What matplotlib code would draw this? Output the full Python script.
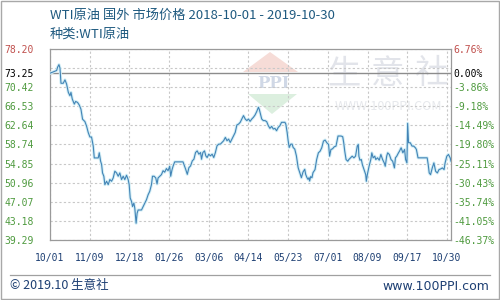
import matplotlib
matplotlib.use('Agg')
import matplotlib.pyplot as plt
from matplotlib.patches import Polygon, Rectangle
from matplotlib.lines import Line2D

plt.rcParams['font.family'] = ['Noto Sans CJK SC', 'DejaVu Sans']

# days since 2018-10-01 and WTI price
day_offset = [0, 6.5, 7.5, 8.8, 9.8, 10.8, 13, 14.7, 16.3, 18, 19.6, 20.6, 21.9, 23.9, 25.2,
              27.1, 28.8, 30.4, 32, 34.3, 35.9, 37.6, 39.2, 40.8, 42.5, 43.5, 44.8, 47.4,
              48.4, 49.7, 50.7, 51.6, 52.9, 53.9, 55.6, 57.2, 58.8, 60.5, 62.1, 63.7, 65.4,
              67, 68.6, 70.3, 71.9, 73.5, 75.2, 76.8, 77.8, 78.8, 80.1, 81.1, 82.4, 83.3,
              84.6, 85.6, 86.6, 89.9, 91.5, 93.1, 94.8, 96.4, 98, 99.7, 100.7, 102.3, 103.9,
              105.2, 106.2, 107.8, 109.5, 111.1, 112.7, 114.4, 116, 117.6, 118.6, 119.9,
              120.9, 122.5, 125.8, 130.7, 133.3, 134.9, 136.5, 138.1, 139.8, 141.4, 143,
              144.6, 146.3, 147.9, 148.9, 150.2, 151.8, 153.1, 154.4, 156, 157.6, 159.3,
              160.9, 162.5, 164.1, 165.8, 167.4, 169, 170.6, 172.3, 173.9, 175.5, 177.1,
              178.8, 180.4, 182, 183.6, 185.3, 186.9, 188.5, 190.1, 191.8, 193.4, 195,
              196.6, 198.3, 199.9, 201.5, 203.1, 204.8, 205.7, 207, 208, 209.6, 211.3,
              212.9, 214.5, 216.1, 217.8, 219.4, 221, 222.6, 224.3, 225.9, 227.5, 229.1,
              230.8, 231.7, 233, 234, 235, 236.6, 237.9, 238.9, 240.5, 242.1, 243.8, 245.4,
              247, 248.6, 250.3, 251.2, 252.5, 253.5, 254.5, 255.1, 256.1, 257.4, 258.4,
              260.4, 262, 263.7, 265.4, 267, 268.7, 270.3, 272, 273.7, 274.7, 276, 277.6,
              279.3, 281, 282, 283, 284.3, 286, 287.6, 288.6, 289.6, 290.9, 292.6, 293.6,
              295.2, 296.9, 298.6, 300.2, 301.9, 302.9, 303.5, 304.5, 305.9, 306.9, 308.5,
              310.2, 310.8, 311.8, 313.5, 315.2, 316.2, 317.5, 319.1, 320.1, 321.8, 323.5,
              325.1, 326.8, 328.4, 329.4, 330.8, 331.8, 333.4, 335.1, 336.7, 338.4, 339.4,
              340.7, 342.4, 343.4, 345, 346.7, 348.4, 349.4, 350.7, 351.4, 352.3, 354,
              355.7, 357.3, 359, 360, 361.6, 365, 368.3, 370.6, 371.6, 372.6, 373.9, 375.6,
              377.2, 378.9, 380.6, 382.2, 383.9, 385.5, 387.2, 388.2, 389.9, 391.5, 393.2,
              394]
price = [73.25, 73.8, 74.5, 75.0, 74.3, 71.2, 71.2, 71.9, 71.05, 69.35, 68.66, 69.35, 67.98,
         66.96, 67.5, 67.3, 66.75, 65.93, 63.88, 63.4, 62.5, 61.15, 60.26, 60.26, 58.4, 56.0,
         56.0, 56.0, 57.05, 55.35, 54.66, 52.95, 52.27, 50.56, 51.25, 50.56, 51.6, 51.25,
         51.93, 53.3, 52.95, 52.27, 52.95, 51.6, 52.27, 51.6, 52.48, 51.6, 50.56, 47.83,
         47.15, 46.1, 46.8, 45.8, 42.7, 44.76, 45.4, 45.4, 46.1, 46.8, 47.5, 48.5, 49.2,
         50.56, 52.27, 52.27, 51.93, 50.7, 51.93, 52.27, 52.6, 53.4, 53.1, 53.84, 53.4,
         54.3, 52.27, 53.6, 54.3, 55.2, 55.2, 55.2, 53.69, 52.66, 54.03, 54.37, 55.4, 55.74,
         57.1, 57.44, 56.76, 57.1, 55.74, 57.1, 57.44, 56.42, 56.08, 56.76, 56.42, 56.76,
         56.08, 57.1, 58.47, 58.81, 58.81, 59.15, 59.5, 60.18, 59.5, 59.84, 59.15, 59.84,
         60.52, 61.2, 62.7, 62.9, 63.25, 63.93, 64.62, 63.93, 63.6, 63.93, 63.45, 63.93,
         64.28, 64.75, 65.44, 66.32, 65.85, 64.75, 63.93, 63.6, 63.6, 63.39, 62.57, 62.02,
         62.43, 61.88, 62.02, 61.54, 62.23, 62.57, 63.25, 63.25, 63.25, 62.9, 61.2, 59.5,
         58.13, 58.81, 58.81, 58.13, 57.79, 56.42, 54.03, 53.0, 51.98, 53.14, 53.69, 52.66,
         51.98, 51.64, 51.98, 51.3, 52.19, 51.98, 53.0, 53.63, 55.67, 57.04, 57.38, 58.07,
         59.43, 59.64, 59.09, 58.75, 56.36, 57.72, 57.86, 58.27, 58.41, 59.43, 60.46, 60.46,
         60.46, 60.32, 59.09, 57.38, 55.67, 55.33, 55.67, 56.02, 56.36, 56.02, 56.36, 58.41,
         58.75, 56.36, 55.54, 55.67, 54.65, 53.63, 52.6, 51.24, 52.6, 54.31, 55.67, 57.04,
         56.02, 56.36, 55.67, 56.02, 55.54, 56.7, 55.67, 54.99, 54.31, 56.36, 57.04, 56.7,
         55.67, 55.33, 53.97, 56.02, 56.36, 57.04, 57.38, 58.07, 57.04, 57.72, 55.67, 54.99,
         63.05, 59.09, 59.09, 58.41, 58.41, 58.07, 57.72, 56.02, 56.02, 56.02, 56.02, 54.65,
         52.94, 52.6, 53.97, 54.99, 53.28, 52.94, 53.63, 53.76, 53.97, 53.63, 54.99, 56.36,
         56.7, 56.02, 55.33]

base_price = 73.25
left_ticks = [78.20, 73.25, 70.42, 66.53, 62.64, 58.74, 54.85, 50.96, 47.07, 43.18, 39.29]
right_labels = ['6.76%', '0.00%', '-3.86%', '-9.18%', '-14.49%', '-19.80%', '-25.11%',
                '-30.43%', '-35.74%', '-41.05%', '-46.37%']
x_tick_days = [0, 39, 78, 117, 156, 195, 234, 273, 312, 351, 390]
x_tick_labels = ['10/01', '11/09', '12/18', '01/26', '03/06', '04/14', '05/23', '07/01',
                 '08/09', '09/17', '10/30']

red = '#c0504d'
green = '#4e9a3e'
navy = '#1d3f73'
grid_c = '#c8c8c8'
mono = ['DejaVu Sans Mono']

fig = plt.figure(figsize=(5, 3), dpi=100)
ax = fig.add_axes([0.1, 0.2, 0.802, 0.637])

ymin, ymax = 39.29, 78.20
ax.set_xlim(0, 394)
ax.set_ylim(ymin, ymax)

# dotted grid
step = (ymax - ymin) / 10
for k in range(11):
    ax.axhline(ymax - k * step, color=grid_c, lw=0.8, ls=(0, (2, 2)), zorder=1)
for d in x_tick_days:
    ax.axvline(d, color=grid_c, lw=0.8, ls=(0, (2, 2)), zorder=1)
ax.axhline(base_price, color='#8c8c8c', lw=1.0, zorder=2)

# watermark: logo + site name
def px(x, y):
    return (x / 500, 1 - y / 300)

ax.add_patch(Polygon([px(243, 72), px(298, 72), px(270, 52)], closed=True,
                     transform=fig.transFigure, color='#f6dcd7', zorder=0.2, lw=0))
ax.add_patch(Polygon([px(248, 94), px(297, 94), px(272, 114)], closed=True,
                     transform=fig.transFigure, color='#dcefdf', zorder=0.2, lw=0))
ax.text(273 / 500, 1 - 84 / 300, 'PPI', transform=fig.transFigure, ha='center', va='center',
        fontsize=12, color='#d0d8e6', family=['DejaVu Serif'], fontweight='bold', zorder=0.2)
for cx, ch in zip([344, 388, 431], ['生', '意', '社']):
    ax.text(cx / 500, 1 - 74 / 300, ch, transform=fig.transFigure, ha='center', va='center',
            fontsize=24, color='#e2e4ea', zorder=0.2)
ax.text(388 / 500, 1 - 107 / 300, 'WWW.100PPI.COM', transform=fig.transFigure, ha='center',
        va='center', fontsize=9, color='#e6e8ec', zorder=0.2)

# price line with light halo
ax.plot(day_offset, price, color='#d2eef6', lw=2.2, zorder=3, solid_joinstyle='round')
ax.plot(day_offset, price, color='#4384b6', lw=0.8, zorder=4)

for s in ax.spines.values():
    s.set_color('#9a9a9a')
    s.set_linewidth(0.9)

ax.set_xticks(x_tick_days)
ax.set_xticklabels(x_tick_labels, family=mono, fontsize=7, color=navy)
ax.set_yticks(left_ticks)
ax.set_yticklabels(['%.2f' % v for v in left_ticks], family=mono, fontsize=7)
ax.tick_params(length=0, pad=11.5, axis='y')
ax.tick_params(length=0, pad=9, axis='x')
for i, t in enumerate(ax.get_yticklabels()):
    t.set_color(red if i == 0 else ('black' if i == 1 else green))

ax2 = ax.twinx()
ax2.set_ylim(ymin, ymax)
ax2.set_yticks(left_ticks)
ax2.set_yticklabels(right_labels, family=mono, fontsize=7)
ax2.tick_params(length=0, pad=2)
for s in ax2.spines.values():
    s.set_visible(False)
for i, t in enumerate(ax2.get_yticklabels()):
    t.set_color(red if i == 0 else ('black' if i == 1 else green))

# titles and footer
title_c = '#1f5a80'
fig.text(50 / 500, 1 - 15 / 300, 'WTI原油 国外 市场价格 2018-10-01 - 2019-10-30',
         fontsize=9.5, color=title_c, va='center', ha='left')
fig.text(50 / 500, 1 - 34 / 300, '种类:WTI原油', fontsize=9.5, color=title_c,
         va='center', ha='left')
fig.add_artist(Line2D([10 / 500, 490 / 500], [1 - 275 / 300, 1 - 275 / 300],
                      color='#a0a0a0', lw=0.9))
fig.text(10 / 500, 1 - 286 / 300, '© 2019.10 生意社', fontsize=9, color=navy,
         va='center', ha='left')
fig.text(489 / 500, 1 - 286 / 300, 'www.100PPI.com', fontsize=9, color=navy,
         va='center', ha='right', family=['DejaVu Sans'])
fig.add_artist(Rectangle((0.001, 0.002), 0.997, 0.996, transform=fig.transFigure,
                         fill=False, edgecolor='#a8a8a8', lw=1.0))

fig.savefig('out.png', dpi=100)
